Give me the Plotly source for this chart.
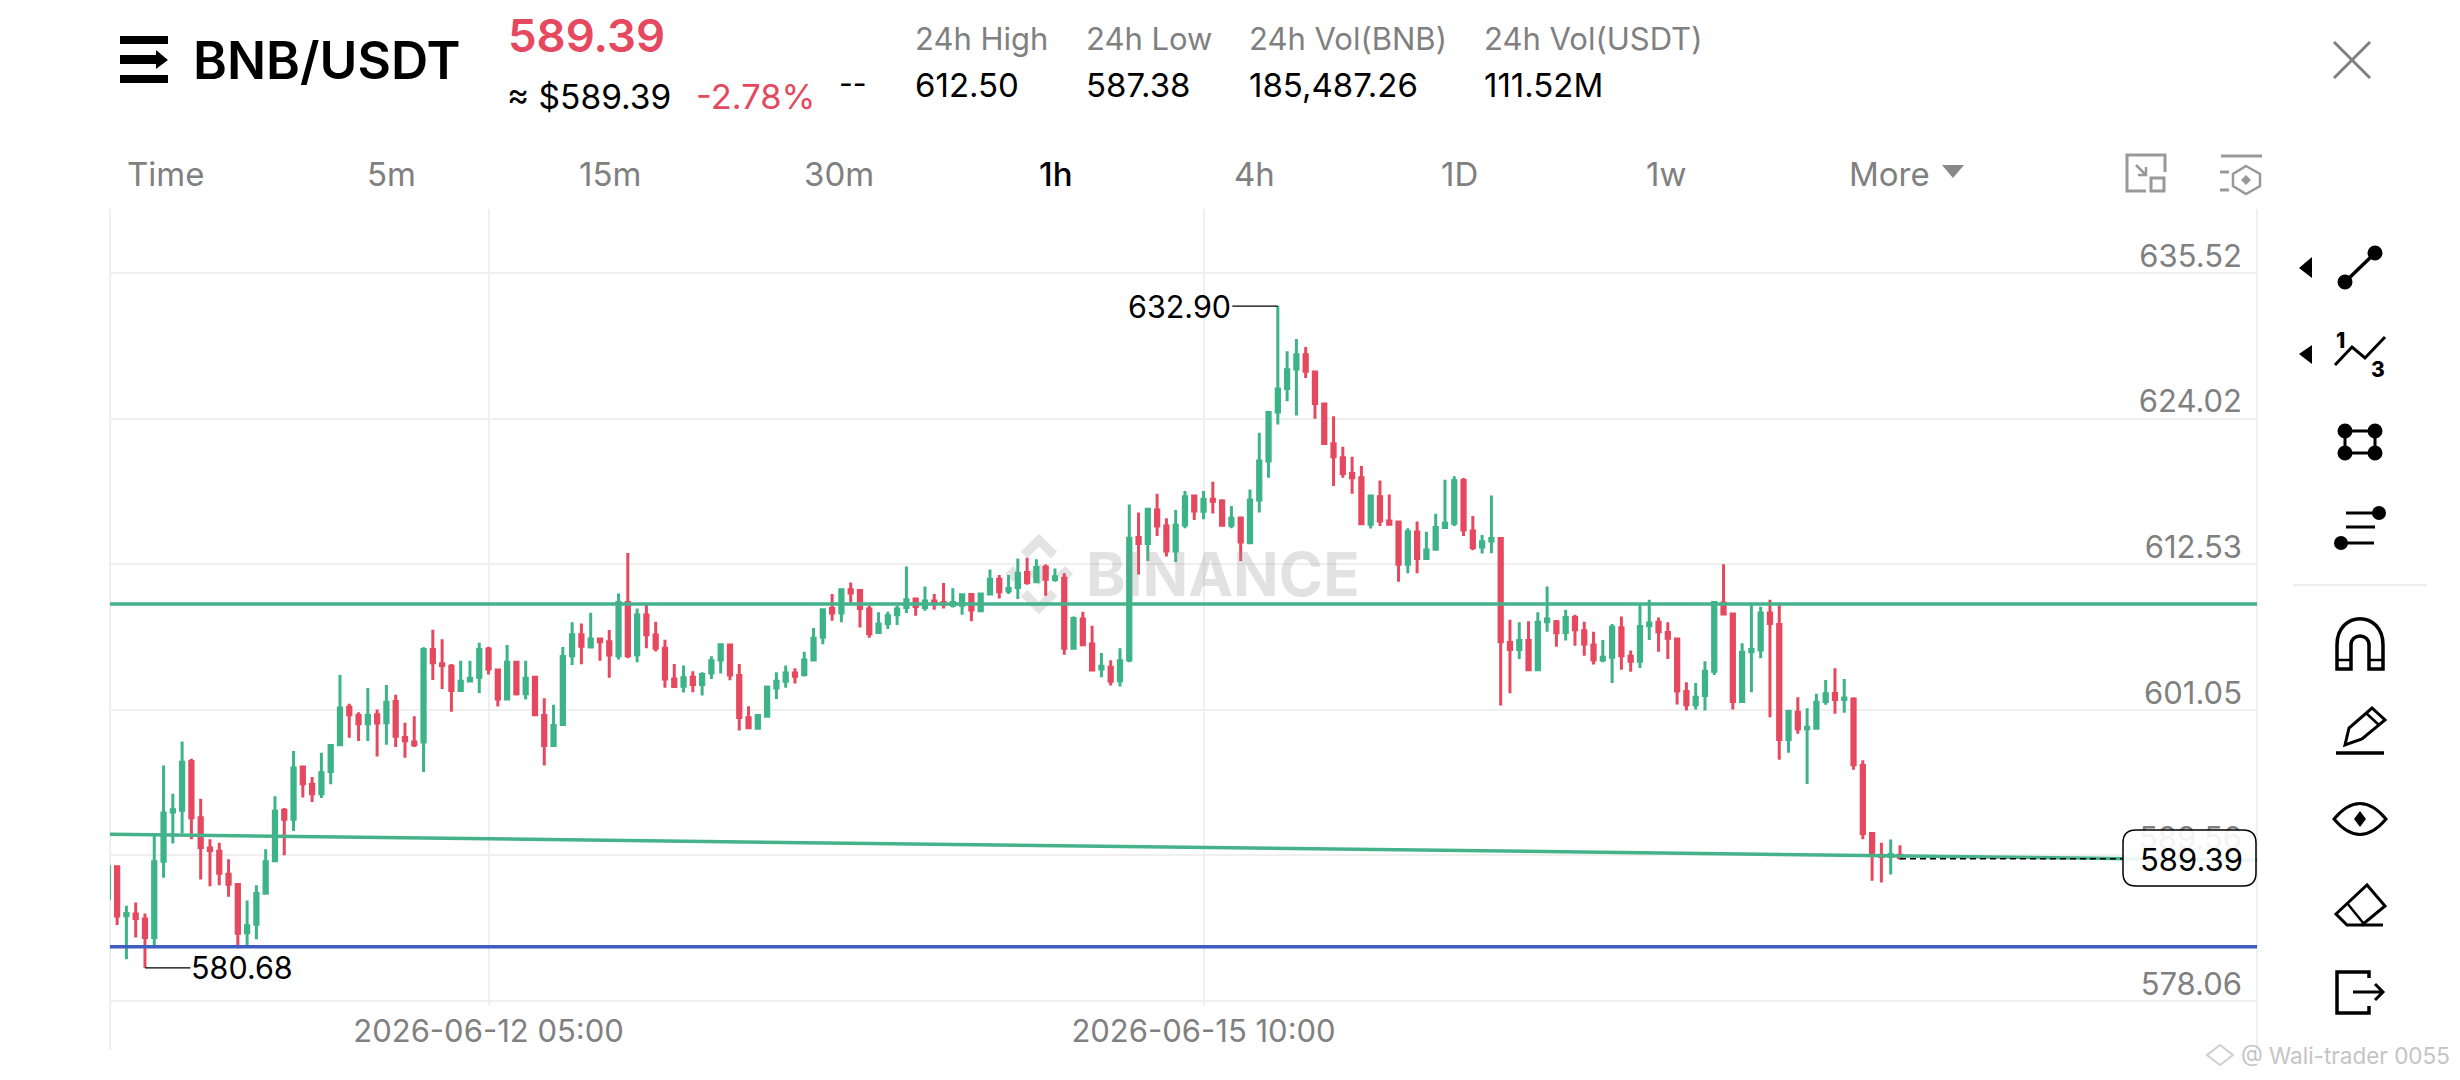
import pandas as pd
import plotly.graph_objects as go

W, H = 2460, 1080

# --- hourly candles ---
OPENS = [586.15,
    588.65, 584.79, 584.92, 584.53, 583.08, 589.09, 592.98, 593.11, 596.97, 592.53,
    590.14, 589.88, 588.07, 587.25, 583.45, 584.11, 586.57, 589.12, 593.11, 592.40,
    596.52, 595.16, 594.42, 596.18, 598.28, 601.25, 600.59, 599.93, 600.64, 600.01,
    601.69, 598.86, 598.49, 598.49, 605.79, 604.68, 604.47, 602.56, 603.32, 603.61,
    605.84, 604.18, 601.90, 604.79, 602.30, 603.61, 600.59, 598.23, 599.88, 605.31,
    606.97, 606.00, 606.63, 606.42, 605.31, 609.51, 605.39, 608.52, 606.94, 605.89,
    603.48, 602.90, 603.61, 603.03, 603.95, 604.97, 606.15, 603.74, 600.41, 599.59,
    600.54, 602.77, 603.29, 603.95, 603.82, 604.97, 606.76, 609.04, 608.67, 610.51,
    610.46, 608.99, 607.15, 607.86, 608.54, 609.12, 609.78, 609.12, 609.62, 609.51,
    609.30, 609.30, 610.14, 608.86, 610.17, 611.35, 610.41, 610.69, 611.88, 611.14,
    612.30, 611.32, 611.43, 605.89, 608.20, 606.23, 604.26, 604.40, 603.34, 604.97,
    614.63, 614.16, 616.81, 615.55, 613.58, 615.63, 617.91, 616.70, 617.65, 617.52,
    615.60, 616.18, 614.23, 617.59, 620.67, 624.55, 626.39, 627.94, 629.06, 627.70,
    625.18, 622.03, 620.93, 619.69, 619.35, 615.68, 617.86, 615.94, 615.86, 612.53,
    615.07, 612.97, 613.71, 615.42, 615.76, 619.14, 615.15, 613.89, 614.37, 614.55,
    606.36, 605.79, 606.50, 604.21, 607.99, 607.99, 607.15, 608.33, 607.28, 606.15,
    604.97, 605.18, 607.52, 605.26, 604.87, 607.68, 607.94, 607.15, 606.63, 602.48,
    601.43, 602.16, 604.08, 609.46, 608.60, 601.69, 605.63, 605.76, 608.67, 607.78,
    598.70, 600.85, 599.54, 599.59, 601.69, 602.32, 601.85, 601.90, 596.65, 591.27,
    589.57, 589.46, 589.57]
HIGHS = [588.65,
    588.65, 585.58, 585.84, 584.97, 591.27, 596.65, 594.42, 598.54, 597.18, 594.03,
    590.83, 590.54, 589.25, 587.28, 586.00, 587.20, 590.04, 594.21, 593.29, 597.78,
    596.57, 595.73, 597.65, 598.23, 603.79, 601.51, 600.85, 602.77, 601.06, 603.00,
    602.22, 600.01, 600.54, 605.97, 607.36, 606.60, 604.66, 604.92, 604.92, 606.34,
    606.02, 604.21, 606.15, 604.84, 604.92, 603.66, 601.95, 601.43, 606.00, 607.94,
    607.86, 608.70, 606.68, 607.33, 610.22, 613.42, 609.04, 609.38, 607.99, 606.57,
    604.66, 604.53, 604.08, 604.00, 605.26, 606.29, 606.18, 604.66, 601.32, 600.59,
    602.95, 604.00, 604.53, 604.32, 605.63, 607.49, 608.99, 610.17, 610.56, 611.09,
    610.51, 609.25, 608.73, 608.78, 609.25, 612.35, 609.88, 610.77, 610.17, 611.04,
    610.64, 610.22, 610.22, 610.17, 612.11, 611.67, 611.67, 612.98, 613.03, 612.93,
    612.51, 612.19, 611.82, 608.41, 608.78, 607.68, 605.52, 604.95, 605.89, 617.25,
    616.60, 616.86, 618.09, 616.15, 616.81, 618.30, 617.99, 618.30, 619.04, 617.65,
    617.12, 616.20, 618.43, 622.90, 624.50, 632.90, 629.33, 630.30, 629.67, 627.70,
    625.18, 624.21, 621.79, 621.01, 620.27, 617.99, 619.14, 618.04, 615.89, 615.36,
    615.89, 615.10, 616.52, 619.20, 619.48, 619.33, 616.33, 614.84, 617.96, 614.58,
    608.15, 607.94, 608.02, 608.73, 610.77, 608.12, 608.94, 608.54, 607.99, 607.20,
    606.55, 607.81, 608.41, 605.71, 609.44, 609.72, 608.33, 607.94, 606.68, 603.21,
    603.16, 604.87, 609.59, 612.53, 608.62, 606.29, 609.44, 609.17, 609.72, 609.33,
    601.04, 602.03, 601.17, 602.30, 603.40, 604.32, 603.48, 602.03, 597.05, 591.35,
    590.54, 590.80, 590.35]
LOWS = [586.15,
    584.05, 581.35, 583.08, 580.68, 582.48, 587.78, 590.48, 591.27, 590.83, 587.65,
    587.12, 587.20, 586.28, 582.22, 582.43, 582.93, 586.57, 589.12, 589.57, 591.48,
    594.11, 593.77, 594.08, 595.16, 598.28, 598.83, 598.57, 598.57, 597.36, 598.28,
    598.10, 597.26, 598.10, 596.13, 603.40, 602.69, 600.88, 602.56, 603.27, 602.37,
    603.82, 601.30, 601.90, 602.16, 601.85, 600.54, 596.65, 598.23, 599.88, 604.58,
    604.63, 606.00, 604.92, 603.56, 605.00, 605.10, 604.79, 605.89, 605.65, 602.79,
    602.82, 602.40, 602.43, 602.16, 603.48, 603.90, 603.37, 599.41, 599.54, 599.59,
    600.46, 601.90, 602.79, 603.11, 603.66, 604.87, 606.21, 608.07, 607.94, 609.51,
    607.54, 606.73, 607.15, 607.41, 607.73, 608.67, 608.46, 608.86, 608.94, 609.04,
    609.12, 608.54, 608.02, 608.73, 610.17, 609.83, 610.17, 609.78, 610.90, 611.14,
    610.04, 611.14, 605.39, 605.79, 606.05, 604.08, 603.61, 602.95, 602.87, 604.79,
    611.71, 612.79, 614.76, 613.13, 612.71, 615.36, 616.02, 616.07, 616.54, 615.55,
    615.36, 612.79, 614.23, 616.60, 619.35, 623.55, 625.39, 624.26, 627.23, 624.00,
    621.98, 618.70, 619.35, 618.09, 615.68, 615.34, 615.55, 615.60, 611.14, 611.82,
    611.82, 612.97, 613.71, 615.42, 615.55, 614.76, 613.63, 613.37, 613.40, 601.37,
    602.35, 605.05, 604.13, 604.08, 607.20, 606.02, 606.50, 606.10, 605.31, 604.61,
    604.79, 603.16, 604.21, 604.05, 604.34, 606.55, 605.63, 605.05, 601.46, 600.98,
    601.06, 600.98, 603.79, 608.57, 601.06, 601.69, 602.43, 605.10, 600.46, 597.10,
    597.65, 599.15, 595.18, 599.59, 601.43, 600.72, 600.80, 596.31, 590.83, 587.55,
    587.41, 588.04, 589.20]
CLOSES = [588.65,
    584.76, 584.97, 584.58, 583.08, 589.04, 592.90, 593.16, 596.91, 592.53, 590.17,
    589.93, 588.15, 587.28, 583.40, 584.00, 586.55, 589.04, 593.03, 592.40, 596.44,
    595.21, 594.42, 596.07, 598.23, 601.19, 600.64, 599.93, 600.59, 599.99, 601.64,
    598.96, 598.59, 598.28, 605.79, 604.76, 604.53, 602.56, 603.29, 603.53, 605.79,
    604.26, 601.90, 604.79, 602.30, 603.53, 600.64, 598.23, 599.80, 605.24, 606.97,
    606.05, 606.63, 606.42, 605.37, 609.51, 605.31, 608.52, 606.97, 605.89, 603.48,
    602.87, 603.56, 603.03, 603.82, 604.92, 606.18, 603.79, 600.43, 599.62, 600.59,
    602.82, 603.29, 603.95, 603.69, 604.97, 606.68, 608.94, 608.67, 610.51, 610.25,
    609.04, 607.05, 607.81, 608.46, 608.99, 609.72, 609.20, 609.62, 609.41, 609.36,
    609.51, 610.12, 608.91, 610.17, 611.35, 610.35, 610.62, 611.82, 611.09, 612.27,
    611.35, 611.53, 605.89, 608.25, 606.18, 604.18, 604.47, 603.29, 604.92, 614.58,
    614.16, 616.86, 615.55, 613.58, 615.60, 617.86, 616.73, 617.65, 617.49, 615.60,
    616.15, 614.29, 617.59, 620.67, 624.50, 626.36, 627.88, 629.06, 627.75, 625.21,
    622.06, 621.01, 619.69, 619.35, 615.73, 617.91, 615.94, 615.68, 612.53, 615.10,
    612.97, 613.66, 615.42, 615.76, 619.12, 615.23, 613.84, 614.31, 614.55, 606.41,
    605.79, 606.50, 604.21, 607.94, 608.20, 607.13, 608.33, 607.36, 606.23, 604.97,
    605.18, 607.55, 605.31, 604.87, 607.62, 607.89, 607.20, 606.68, 602.53, 601.43,
    602.03, 604.08, 609.51, 608.60, 601.69, 605.58, 605.79, 608.67, 607.86, 598.70,
    600.90, 599.54, 599.67, 601.64, 602.30, 601.85, 601.98, 596.71, 591.27, 589.57,
    589.46, 589.62, 589.39]

FIRST_CANDLE = "2026-06-10 12:00"
X_START, X_END = "2026-06-10 12:14", "2026-06-20 03:27"
Y_MIN, Y_MAX = 577.745, 640.56

PRICE_TICKS = [578.06, 589.56, 601.05, 612.53, 624.02, 635.52]
TIME_TICKS = ["2026-06-12 05:00", "2026-06-15 10:00"]

# drawn support / trend lines
SUPPORT_TOP = 609.39
SUPPORT_BOTTOM = 582.34
TREND_START, TREND_END = 591.22, 589.17

LAST_PRICE = 589.39
PEAK_PRICE = 632.90
TROUGH_PRICE = 580.68
LAST_LINE_END = "2026-06-19 13:00"

TABS = ["5m", "15m", "30m", "1h", "4h", "1D", "1w"]
STATS = [("24h High", "612.50"), ("24h Low", "587.38"),
         ("24h Vol(BNB)", "185,487.26"), ("24h Vol(USDT)", "111.52M")]

GREEN = "#3DB388"
RED = "#E6495F"
LINE_GREEN = "#45B28C"
BLUE = "#3F5CC0"
GRID = "#EFEFEF"
GREY = "#808080"
FONT = "Inter"


def px(x, y):
    return f"{x / W:.5f},{1 - y / H:.5f}"


def path(*items):
    return " ".join(px(*i) if isinstance(i, tuple) else i for i in items)


shapes = []
annotations = []


def draw(d, color="#000000", width=3.0, fill=None, layer="above"):
    shapes.append(dict(type="path", xref="paper", yref="paper", path=d, layer=layer,
                       line=dict(color=color, width=width),
                       fillcolor=fill if fill else "rgba(0,0,0,0)"))


def dot(cx, cy, r, color="#000000"):
    shapes.append(dict(type="circle", xref="paper", yref="paper",
                       x0=(cx - r) / W, x1=(cx + r) / W,
                       y0=1 - (cy + r) / H, y1=1 - (cy - r) / H,
                       fillcolor=color, line=dict(color=color, width=0)))


def label(x, y, s, size, color="#000000", anchor="left", weight=400):
    annotations.append(dict(xref="paper", yref="paper", x=x / W, y=1 - y / H, text=s,
                            xanchor=anchor, yanchor="middle", showarrow=False, borderpad=0,
                            font=dict(family=FONT, size=size, color=color, weight=weight)))


def rounded_box(x0, y0, x1, y1, r):
    return path("M", (x0 + r, y0), "L", (x1 - r, y0), "Q", (x1, y0), (x1, y0 + r),
                "L", (x1, y1 - r), "Q", (x1, y1), (x1 - r, y1),
                "L", (x0 + r, y1), "Q", (x0, y1), (x0, y1 - r),
                "L", (x0, y0 + r), "Q", (x0, y0), (x0 + r, y0), "Z")


# ==== candles and lines ====
dates = pd.date_range(FIRST_CANDLE, periods=len(OPENS), freq="h")
peak_date = dates[HIGHS.index(PEAK_PRICE)]
trough_date = dates[LOWS.index(TROUGH_PRICE)]

fig = go.Figure()
fig.add_trace(go.Candlestick(
    x=dates, open=OPENS, high=HIGHS, low=LOWS, close=CLOSES,
    increasing=dict(line=dict(color=GREEN, width=3), fillcolor=GREEN),
    decreasing=dict(line=dict(color=RED, width=3), fillcolor=RED),
    showlegend=False))

for ys, color in [([SUPPORT_TOP, SUPPORT_TOP], LINE_GREEN),
                  ([TREND_START, TREND_END], LINE_GREEN),
                  ([SUPPORT_BOTTOM, SUPPORT_BOTTOM], BLUE)]:
    fig.add_trace(go.Scatter(x=[X_START, X_END], y=ys, mode="lines",
                             line=dict(color=color, width=3.5), showlegend=False))

fig.add_trace(go.Scatter(x=[dates[-1], LAST_LINE_END], y=[LAST_PRICE - 0.1, LAST_PRICE - 0.1], mode="lines",
                         line=dict(color="#000000", width=1.5, dash="6px,4px"), showlegend=False))

# leader lines for the high and low
fig.add_trace(go.Scatter(x=[peak_date - pd.Timedelta(hours=4.9), peak_date], y=[PEAK_PRICE, PEAK_PRICE],
                         mode="lines", line=dict(color="#000000", width=1.2), showlegend=False))
fig.add_trace(go.Scatter(x=[trough_date, trough_date + pd.Timedelta(hours=4.9)], y=[TROUGH_PRICE, TROUGH_PRICE],
                         mode="lines", line=dict(color="#000000", width=1.2), showlegend=False))
annotations.append(dict(x=peak_date - pd.Timedelta(hours=4.9), y=PEAK_PRICE, text=f"{PEAK_PRICE:.2f}",
                        xanchor="right", yanchor="middle", showarrow=False, borderpad=0,
                        font=dict(family=FONT, size=30.5, color="#000000")))
annotations.append(dict(x=trough_date + pd.Timedelta(hours=4.9), y=TROUGH_PRICE, text=f"{TROUGH_PRICE:.2f}",
                        xanchor="left", yanchor="middle", showarrow=False, borderpad=0,
                        font=dict(family=FONT, size=30.5, color="#000000")))

# ==== watermark ====
label(1085, 574, "BINANCE", 60, "rgba(150,150,150,0.28)", weight=700)
logo_x, logo_y = 1039, 574
for dx, dy, r in [(0, 0, 11), (-26, 0, 8), (26, 0, 8)]:
    draw(path("M", (logo_x + dx, logo_y + dy - r), "L", (logo_x + dx + r, logo_y + dy),
              "L", (logo_x + dx, logo_y + dy + r), "L", (logo_x + dx - r, logo_y + dy), "Z"),
         color="#E3E3E3", width=0, fill="#E3E3E3", layer="below")
draw(path("M", (logo_x - 15, logo_y - 19), "L", (logo_x, logo_y - 34), "L", (logo_x + 15, logo_y - 19)),
     color="#E3E3E3", width=9, layer="below")
draw(path("M", (logo_x - 15, logo_y + 19), "L", (logo_x, logo_y + 34), "L", (logo_x + 15, logo_y + 19)),
     color="#E3E3E3", width=9, layer="below")

# ==== chart frame ====
for fx in (110, 2257):
    draw(path("M", (fx, 209), "L", (fx, 1050)), color=GRID, width=2, layer="below")

# ==== last price box ====
draw(rounded_box(2123, 830, 2256, 886, 13), color="#000000", width=1.5, fill="rgba(255,255,255,0.9)")
label(2139, 859, f"{LAST_PRICE:.2f}", 31)

# ==== header ====
draw(path("M", (120, 36), "L", (168, 36), "L", (168, 44), "L", (120, 44), "Z"), width=0, fill="#000000")
draw(path("M", (120, 75), "L", (168, 75), "L", (168, 83), "L", (120, 83), "Z"), width=0, fill="#000000")
draw(path("M", (120, 55), "L", (156, 55), "L", (156, 50), "L", (168, 60), "L", (156, 69),
          "L", (156, 64), "L", (120, 64), "Z"), width=0, fill="#000000")
label(192, 60, "BNB/USDT", 51.5, weight=600)
label(507, 36, "589.39", 45.5, RED, weight=600)
label(506, 97, "≈ $589.39", 33.5)
label(695, 97, "-2.78%", 34.5, RED)
label(838, 83, "--", 30)
for x_pos, (name, value) in zip([914, 1085, 1248, 1483], STATS):
    label(x_pos, 38, name, 31, GREY)
    label(x_pos, 85, value, 33)

draw(path("M", (2334, 42), "L", (2370, 78)), color=GREY, width=3)
draw(path("M", (2370, 42), "L", (2334, 78)), color=GREY, width=3)

# ==== interval tabs ====
label(126, 174, "Time", 33, GREY)
for x_pos, tab in zip([391, 610, 839, 1056, 1254, 1459, 1666], TABS):
    if tab == "1h":
        label(x_pos, 174, tab, 33, "#000000", "center", 500)
    else:
        label(x_pos, 174, tab, 33, GREY, "center")
label(1848, 174, "More", 33, GREY)
draw(path("M", (1942, 165), "L", (1964, 165), "L", (1953, 178), "Z"), color="#888888", width=0, fill="#888888")

# small layout icons next to the tabs
draw(path("M", (2148, 155), "L", (2127, 155), "L", (2127, 191), "L", (2146, 191)), color="#999999", width=3)
draw(path("M", (2148, 155), "L", (2165, 155), "L", (2165, 172)), color="#999999", width=3)
draw(path("M", (2151, 178), "L", (2164, 178), "L", (2164, 191), "L", (2151, 191), "Z"), color="#999999", width=3)
draw(path("M", (2136, 165), "L", (2146, 175), "M", (2146, 167), "L", (2146, 175), "L", (2138, 175)),
     color="#999999", width=2.5)
draw(path("M", (2221, 156), "L", (2262, 156)), color="#999999", width=3)
draw(path("M", (2220, 172), "L", (2229, 172), "M", (2220, 190), "L", (2229, 190)), color="#999999", width=3)
draw(path("M", (2246, 166), "L", (2260, 174), "L", (2260, 186), "L", (2246, 194), "L", (2233, 186),
          "L", (2233, 174), "Z"), color="#999999", width=2.5)
draw(path("M", (2246, 175), "L", (2251, 180), "L", (2246, 185), "L", (2241, 180), "Z"),
     color="#999999", width=0, fill="#999999")

# ==== drawing toolbar ====
draw(path("M", (2299, 268), "L", (2312, 257), "L", (2312, 278), "Z"), width=0, fill="#000000")
draw(path("M", (2345, 282), "L", (2375, 253)), width=3.5)
dot(2345, 282, 7.5)
dot(2375, 253, 7.5)

draw(path("M", (2299, 354), "L", (2312, 345), "L", (2312, 364), "Z"), width=0, fill="#000000")
draw(path("M", (2335, 365), "L", (2352, 347), "L", (2365, 358), "L", (2385, 337)), width=3)
label(2340, 340, "1", 21, anchor="center", weight=800)
label(2378, 369, "3", 21, anchor="center", weight=800)

draw(path("M", (2345, 431), "L", (2375, 431), "L", (2375, 453), "L", (2345, 453), "Z"), width=3)
for dx, dy in [(2345, 431), (2375, 431), (2345, 453), (2375, 453)]:
    dot(dx, dy, 7.5)

draw(path("M", (2346, 513), "L", (2376, 513)), width=3)
draw(path("M", (2346, 527), "L", (2375, 527)), width=3)
draw(path("M", (2341, 543), "L", (2374, 543)), width=3)
dot(2379, 513, 7)
dot(2341, 543, 7)

draw(path("M", (2293, 585), "L", (2427, 585)), color="#EEEEEE", width=2)

draw(path("M", (2337, 669), "L", (2337, 645), "C", (2337, 610), (2383, 610), (2383, 645),
          "L", (2383, 669), "L", (2369, 669), "L", (2369, 645), "C", (2369, 633), (2351, 633), (2351, 645),
          "L", (2351, 669), "Z"), width=3.5)
draw(path("M", (2337, 660), "L", (2351, 660), "M", (2369, 660), "L", (2383, 660)), width=2.5)

draw(path("M", (2336, 753), "L", (2384, 753)), width=3.5)
draw(path("M", (2345, 745), "L", (2349, 728), "L", (2372, 708), "L", (2385, 720), "L", (2362, 739), "Z"), width=3)
draw(path("M", (2366, 713), "L", (2379, 725)), width=2.5)

draw(path("M", (2334, 819), "Q", (2360, 788), (2386, 819), "Q", (2360, 850), (2334, 819), "Z"), width=3)
draw(path("M", (2360, 811), "L", (2366, 819), "L", (2360, 827), "L", (2354, 819), "Z"), width=0, fill="#000000")

draw(path("M", (2336, 914), "L", (2367, 885), "L", (2385, 906), "L", (2362, 925), "L", (2347, 925), "Z"), width=3)
draw(path("M", (2347, 903), "L", (2364, 924)), width=2.5)
draw(path("M", (2362, 925), "L", (2383, 925)), width=3)

draw(path("M", (2369, 978), "L", (2369, 972), "L", (2337, 972), "L", (2337, 1013), "L", (2369, 1013),
          "L", (2369, 1006)), width=3.5)
draw(path("M", (2353, 992), "L", (2382, 992), "M", (2375, 984), "L", (2383, 992), "L", (2375, 1000)), width=3)

# ==== source tag, bottom right ====
label(2240, 1055, "@ Wali-trader 0055", 22.5, "#C4C4C4")
draw(path("M", (2220, 1045), "L", (2233, 1055), "L", (2220, 1065), "L", (2207, 1055), "Z"), color="#CFCFCF", width=2)

fig.update_layout(
    width=W, height=H, autosize=False,
    margin=dict(l=0, r=0, t=0, b=0),
    paper_bgcolor="white", plot_bgcolor="white",
    showlegend=False, boxgap=0.5,
    shapes=shapes, annotations=annotations,
    xaxis=dict(
        domain=[110 / W, 2257 / W], type="date", range=[X_START, X_END],
        tickmode="array", tickvals=TIME_TICKS, tickformat="%Y-%m-%d %H:%M",
        showgrid=True, gridcolor=GRID, gridwidth=2, zeroline=False, showline=False,
        rangeslider=dict(visible=False),
        tickfont=dict(family=FONT, size=31, color=GREY), ticks="", ticklabelstandoff=5),
    yaxis=dict(
        domain=[1 - 1005 / H, 1 - 209 / H], range=[Y_MIN, Y_MAX], side="right",
        tickmode="array", tickvals=PRICE_TICKS, ticktext=[f"{v:.2f}" for v in PRICE_TICKS],
        ticklabelposition="inside", ticklabelstandoff=12, ticklabelshift=-17,
        showgrid=True, gridcolor=GRID, gridwidth=2, zeroline=False, showline=False,
        tickfont=dict(family=FONT, size=31, color=GREY), ticks=""),
)

fig.write_html("out.html", config=dict(displayModeBar=False),
               post_script="document.body.style.margin='0';")
